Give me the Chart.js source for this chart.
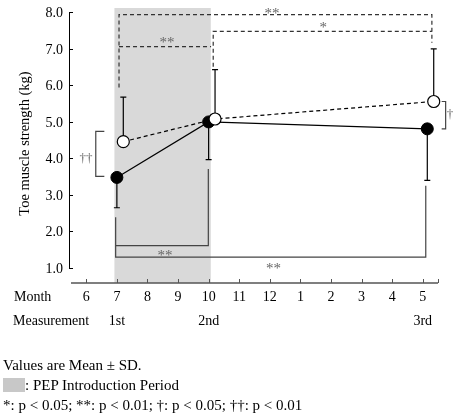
<!DOCTYPE html>
<html>
<head>
<meta charset="utf-8">
<script src="https://cdn.jsdelivr.net/npm/chart.js@4.4.1/dist/chart.umd.min.js"></script>
<style>
body { margin: 0; background: #fff; }
#wrap { position: relative; width: 457px; height: 415px; font-family: "Liberation Serif", "Times New Roman", serif; }
#chart { position: absolute; left: 0; top: 0; }
.note { position: absolute; font-size: 15px; line-height: 20px; white-space: nowrap; color: #000; }
.box { position: absolute; left: 3px; top: 378px; width: 22px; height: 14px; background: #c8c8c8; }
</style>
</head>
<body>
<div id="wrap">
  <canvas id="chart" width="457" height="415"></canvas>
  <div class="note" style="left:3px;top:355px">Values are Mean ± SD.</div>
  <div class="box"></div>
  <div class="note" style="left:25px;top:375px">: PEP Introduction Period</div>
  <div class="note" style="left:3px;top:395px">*: p &lt; 0.05; **: p &lt; 0.01; †: p &lt; 0.05; ††: p &lt; 0.01</div>
</div>
<script>
// months run on from June (6) to the next May (17)
const monthX = [6, 7, 8, 9, 10, 11, 12, 13, 14, 15, 16, 17];
const monthLabels = ['6', '7', '8', '9', '10', '11', '12', '1', '2', '3', '4', '5'];
const measureX = [7, 10, 17];
const measureLabels = ['1st', '2nd', '3rd'];
const pointX = [7, 10, 17.15];
const yTicks = [1, 2, 3, 4, 5, 6, 7, 8];

const filledMean = [3.48, 5.0, 4.81];
const filledSD = [0.83, 1.03, 1.41];
const openMean = [4.46, 5.08, 5.56];
const openSD = [1.22, 1.35, 1.44];

const periodStart = 6.92;
const periodEnd = 10.07;
const OPEN_SHIFT = 0.21;

// significance brackets, in data units
const sigLines = [
    { dash: true, pts: [[7.07, 5.94], [7.07, 7.94], [17.30, 7.94], [17.30, 7.17]] },
    { dash: true, pts: [[7.07, 7.06], [10.08, 7.06]] },
    { dash: true, pts: [[10.15, 6.51], [10.15, 7.48], [17.30, 7.48]] },
    { dash: false, pts: [[6.96, 2.39], [6.96, 1.61], [9.99, 1.61], [9.99, 3.71]] },
    { dash: false, pts: [[6.96, 1.61], [6.96, 1.30], [17.10, 1.30], [17.10, 3.25]] },
    { dash: false, pts: [[6.59, 4.74], [6.31, 4.74], [6.31, 3.51], [6.59, 3.51]] },
    { dash: false, pts: [[17.62, 5.56], [17.75, 5.56], [17.75, 4.81], [17.62, 4.81]] }
];
const sigLabels = [
    { x: 12.07, y: 8.03, t: '**' },
    { x: 8.64, y: 7.24, t: '**' },
    { x: 13.75, y: 7.64, t: '*' },
    { x: 8.57, y: 1.41, t: '**' },
    { x: 12.12, y: 1.04, t: '**' },
    { x: 5.99, y: 4.01, t: '††' },
    { x: 17.89, y: 5.20, t: '†' }
];

const FONT = '"Liberation Serif", "Times New Roman", serif';

const decorPlugin = {
    id: 'decor',
    beforeDatasetsDraw(chart) {
        const { ctx, chartArea, scales: { x, y } } = chart;
        ctx.save();
        // PEP period shading
        const x0 = x.getPixelForValue(periodStart);
        const x1 = x.getPixelForValue(periodEnd);
        ctx.fillStyle = '#d9d9d9';
        ctx.fillRect(x0, chartArea.top, x1 - x0, chartArea.bottom - chartArea.top);

        // brackets
        sigLines.forEach(s => {
            ctx.beginPath();
            ctx.setLineDash(s.dash ? [4, 3] : []);
            ctx.strokeStyle = s.dash ? '#333' : '#444';
            ctx.lineWidth = 1.2;
            s.pts.forEach((p, i) => {
                const px = x.getPixelForValue(p[0]);
                const py = y.getPixelForValue(p[1]);
                if (i === 0) ctx.moveTo(px, py); else ctx.lineTo(px, py);
            });
            ctx.stroke();
        });
        ctx.setLineDash([]);

        // error bars: filled goes down, open goes up
        ctx.strokeStyle = '#000';
        ctx.lineWidth = 1.2;
        const bar = (xv, from, to) => {
            const px = x.getPixelForValue(xv);
            const py0 = y.getPixelForValue(from);
            const py1 = y.getPixelForValue(to);
            ctx.beginPath();
            ctx.moveTo(px, py0);
            ctx.lineTo(px, py1);
            ctx.moveTo(px - 3, py1);
            ctx.lineTo(px + 3, py1);
            ctx.stroke();
        };
        pointX.forEach((xv, i) => {
            bar(xv, filledMean[i], filledMean[i] - filledSD[i]);
            bar(xv + OPEN_SHIFT, openMean[i], openMean[i] + openSD[i]);
        });

        // significance marks
        ctx.fillStyle = '#666';
        ctx.textAlign = 'center';
        ctx.textBaseline = 'middle';
        sigLabels.forEach(l => {
            const star = l.t.indexOf('*') >= 0;
            ctx.font = (star ? '15px ' : '13px ') + FONT;
            ctx.fillText(l.t, x.getPixelForValue(l.x), y.getPixelForValue(l.y) + (star ? 3 : 0));
        });
        ctx.restore();
    },
    afterDraw(chart) {
        const { ctx, chartArea, scales: { x, y } } = chart;
        ctx.save();
        // y axis, stops at 1.0
        const ax = chartArea.left - 2;
        ctx.strokeStyle = '#000';
        ctx.lineWidth = 1;
        ctx.beginPath();
        ctx.moveTo(ax + 0.5, y.getPixelForValue(8));
        ctx.lineTo(ax + 0.5, y.getPixelForValue(1));
        yTicks.forEach(v => {
            const py = Math.round(y.getPixelForValue(v)) + 0.5;
            ctx.moveTo(ax, py);
            ctx.lineTo(ax + 4, py);
        });
        ctx.stroke();

        ctx.fillStyle = '#000';
        ctx.font = '14px ' + FONT;
        ctx.textAlign = 'right';
        ctx.textBaseline = 'middle';
        yTicks.forEach(v => ctx.fillText(v.toFixed(1), ax - 6, y.getPixelForValue(v) + 1));

        // x axis
        const by = chartArea.bottom;
        ctx.strokeStyle = '#555';
        ctx.lineWidth = 1.5;
        ctx.beginPath();
        ctx.moveTo(chartArea.left, by);
        ctx.lineTo(chartArea.right, by);
        ctx.stroke();
        ctx.lineWidth = 1;
        ctx.beginPath();
        monthX.concat([17.5]).forEach(v => {
            const px = Math.round(x.getPixelForValue(v)) + 0.5;
            ctx.moveTo(px, by);
            ctx.lineTo(px, by - 4);
        });
        ctx.stroke();

        ctx.textAlign = 'center';
        monthX.forEach((v, i) => ctx.fillText(monthLabels[i], x.getPixelForValue(v), by + 14));
        measureX.forEach((v, i) => ctx.fillText(measureLabels[i], x.getPixelForValue(v), by + 38));
        ctx.textAlign = 'left';
        ctx.fillText('Month', 14, by + 14);
        ctx.fillText('Measurement', 13, by + 38);

        // y title
        ctx.translate(25, 143.5);
        ctx.rotate(-Math.PI / 2);
        ctx.textAlign = 'center';
        ctx.font = '14.5px ' + FONT;
        ctx.fillText('Toe muscle strength (kg)', 0, 0);
        ctx.restore();
    }
};

new Chart(document.getElementById('chart').getContext('2d'), {
    type: 'line',
    data: {
        datasets: [
            {
                label: 'open',
                data: pointX.map((v, i) => ({ x: v + OPEN_SHIFT, y: openMean[i] })),
                borderColor: '#000',
                borderWidth: 1.2,
                borderDash: [4, 3],
                pointRadius: 6,
                pointBackgroundColor: '#fff',
                pointBorderColor: '#000',
                pointBorderWidth: 1.2,
                clip: false,
                order: 0
            },
            {
                label: 'filled',
                data: pointX.map((v, i) => ({ x: v, y: filledMean[i] })),
                borderColor: '#000',
                borderWidth: 1.2,
                pointRadius: 6,
                pointBackgroundColor: '#000',
                pointBorderColor: '#000',
                pointBorderWidth: 1,
                clip: false,
                order: 1
            }
        ]
    },
    options: {
        responsive: false,
        animation: false,
        layout: { padding: { left: 71, right: 19, top: 8, bottom: 132 } },
        plugins: { legend: { display: false }, tooltip: { enabled: false } },
        scales: {
            x: { type: 'linear', min: 5.5, max: 17.5, display: false },
            y: { type: 'linear', min: 0.589, max: 8.12, display: false }
        }
    },
    plugins: [decorPlugin]
});
</script>
</body>
</html>
